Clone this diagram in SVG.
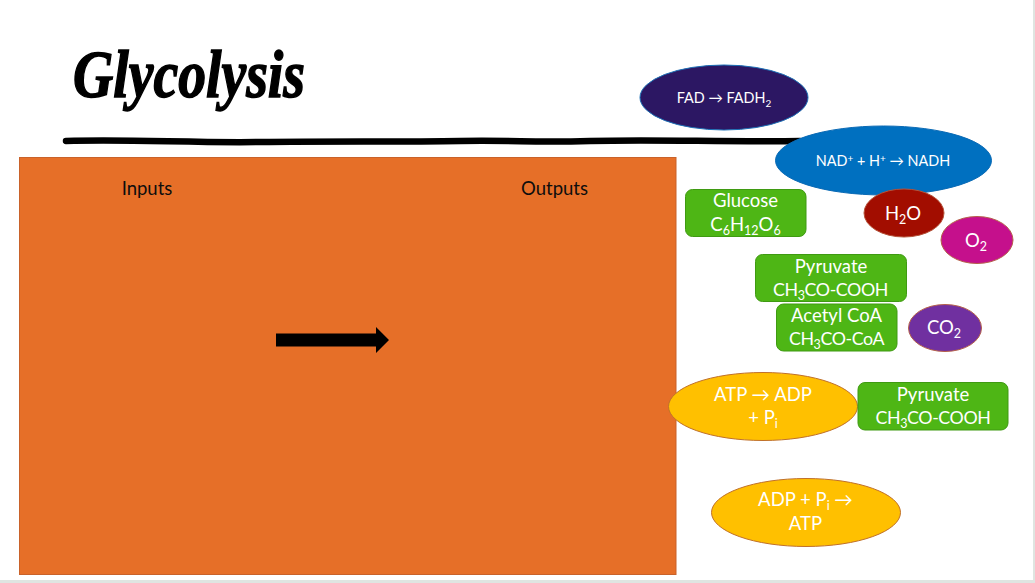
<svg xmlns="http://www.w3.org/2000/svg" width="1035" height="583" viewBox="0 0 1035 583">
<style>
text{font-family:"Lato","Open Sans","Liberation Sans",sans-serif;text-anchor:middle;fill:#fff}
.t18{font-size:18.500px}.t14{font-size:14.400px}
.f{font-size:17.800px;letter-spacing:-0.400px}
.lab{font-size:18.500px;fill:#0d0d0d}
.g{fill:#4eb615;stroke:#3f9a12;stroke-width:1}
.y{fill:#ffc000;stroke:#c0702a;stroke-width:1}
</style>
<rect width="1035" height="583" fill="#fff"/>
<rect x="0" y="580" width="1035" height="3" fill="#dfe5e1"/>
<rect x="1033" y="0" width="2" height="583" fill="#dfe5e1"/>
<text id="title" x="189" y="97" style="font-family:'Liberation Serif',serif;font-size:68px;font-weight:700;font-style:italic;fill:#000;stroke:#000;stroke-width:1.500" textLength="232" lengthAdjust="spacingAndGlyphs">Glycolysis</text>
<path id="rule" d="M66 141C130 139 190 143 260 142S400 142 460 141 530 143 590 141 720 142 800 141" fill="none" stroke="#000" stroke-width="6.500" stroke-linecap="round"/>
<g id="panel"><rect x="19.500" y="157.500" width="656.500" height="417" fill="#e66f28" stroke="#c9622a" stroke-width="1"/>
<text class="lab" x="147" y="195">Inputs</text><text class="lab" x="554.500" y="195">Outputs</text></g>
<g id="connectors"><path d="M276 333.500H376V327L389 340 376 353V346.500H276Z" fill="#000"/></g>
<g id="fad"><ellipse cx="724" cy="97.500" rx="84" ry="32.500" fill="#2c1763" stroke="#1b6fb5"/><text class="t14" x="724" y="103">FAD → FADH<tspan font-size="10" dy="3.500">2</tspan></text></g>
<g id="nad"><ellipse cx="883.500" cy="160.500" rx="108" ry="34.500" fill="#0070c0" stroke="#0a6ab5"/><text class="t14" x="883" y="166">NAD<tspan font-size="10" dy="-4">+</tspan><tspan dy="4"> + H</tspan><tspan font-size="10" dy="-4">+</tspan><tspan dy="4"> → NADH</tspan></text></g>
<g id="glucose"><rect class="g" x="685.500" y="189.500" width="120.500" height="47" rx="7"/><text class="t18" x="745.500" y="207">Glucose</text><text class="t18" x="745.500" y="231">C<tspan font-size="12.500" dy="4">6</tspan><tspan dy="-4">H</tspan><tspan font-size="12.500" dy="4">12</tspan><tspan dy="-4">O</tspan><tspan font-size="12.500" dy="4">6</tspan></text></g>
<g id="h2o"><ellipse cx="904" cy="213" rx="40" ry="24" fill="#a20d00" stroke="#b5533a"/><text class="t18" x="903" y="220">H<tspan font-size="12.500" dy="4">2</tspan><tspan dy="-4">O</tspan></text></g>
<g id="o2"><ellipse cx="977" cy="240" rx="36" ry="23.500" fill="#c5108c" stroke="#b5604a"/><text class="t18" x="976" y="247">O<tspan font-size="12.500" dy="4">2</tspan></text></g>
<g id="pyruvate1"><rect class="g" x="755.500" y="254.500" width="151" height="47" rx="7"/><text class="t18" x="831" y="273">Pyruvate</text><text class="f" x="830.500" y="296">CH<tspan font-size="12.500" dy="4">3</tspan><tspan dy="-4">CO-COOH</tspan></text></g>
<g id="acetyl"><rect class="g" x="776.500" y="304" width="120.500" height="47" rx="7"/><text class="t18" x="836.500" y="322">Acetyl CoA</text><text class="f" x="836.500" y="345">CH<tspan font-size="12.500" dy="4">3</tspan><tspan dy="-4">CO-CoA</tspan></text></g>
<g id="co2"><ellipse cx="945" cy="328" rx="36.500" ry="23.500" fill="#7030a0" stroke="#b5604a"/><text class="t18" x="944" y="334">CO<tspan font-size="12.500" dy="4">2</tspan></text></g>
<g id="atp1"><ellipse class="y" cx="763" cy="406.500" rx="94.500" ry="34"/><text class="t18" x="763" y="401">ATP → ADP</text><text class="t18" x="763" y="424">+ P<tspan font-size="12.500" dy="4">i</tspan></text></g>
<g id="pyruvate2"><rect class="g" x="858" y="382.500" width="150" height="47.500" rx="7"/><text class="t18" x="933" y="401">Pyruvate</text><text class="f" x="933" y="424">CH<tspan font-size="12.500" dy="4">3</tspan><tspan dy="-4">CO-COOH</tspan></text></g>
<g id="atp2"><ellipse class="y" cx="806" cy="512.500" rx="94.500" ry="34"/><text class="t18" x="805.500" y="506">ADP + P<tspan font-size="12.500" dy="4">i</tspan><tspan dy="-4"> →</tspan></text><text class="t18" x="805.500" y="530">ATP</text></g>
</svg>
